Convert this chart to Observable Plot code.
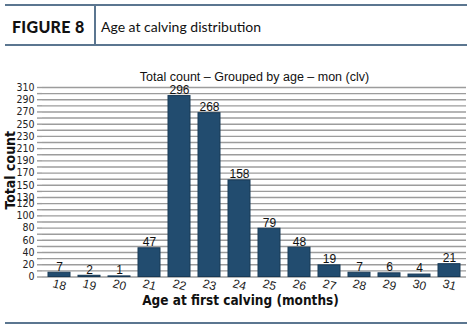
<!DOCTYPE html>
<html>
<head>
<meta charset="utf-8">
<script src="https://cdn.jsdelivr.net/npm/d3@7"></script>
<script src="https://cdn.jsdelivr.net/npm/@observablehq/plot@0.6"></script>
<style>
  html, body { margin: 0; padding: 0; background: #fff; }
  #wrap { position: relative; width: 474px; height: 330px; overflow: hidden; }
  #wrap svg { position: absolute; left: 0; top: 0; }
  .hline { position: absolute; left: 5px; width: 462px; height: 2px; background: #5b7690; }
  .vline { position: absolute; left: 94px; top: 5px; width: 2px; height: 41px; background: #5b7690; }
  .fig { position: absolute; left: 12px; top: 17px; font: 900 16px Lato, "Open Sans", sans-serif; color: #111; letter-spacing: 0.3px; }
  .sub { position: absolute; left: 101px; top: 18px; font: 400 14px Lato, "Open Sans", sans-serif; color: #111; }
</style>
</head>
<body>
<div id="wrap">
  <div class="hline" style="top:4px"></div>
  <div class="hline" style="top:44px"></div>
  <div class="vline"></div>
  <div class="fig">FIGURE 8</div>
  <div class="sub">Age at calving distribution</div>
</div>
<script>
const ages = ["18","19","20","21","22","23","24","25","26","27","28","29","30","31"];
const counts = [7, 2, 1, 47, 296, 268, 158, 79, 48, 19, 7, 6, 4, 21];
const gridTicks = d3.range(0, 311, 10);
const labelTicks = [0, 20, 40, 60, 80, 100, 120, 130, 150, 170, 190, 210, 230, 250, 270, 290, 310];
const chartTitle = "Total count \u2013 Grouped by age \u2013 mon (clv)";
const yTitle = "Total count";
const xTitle = "Age at first calving (months)";

const data = ages.map((a, i) => ({age: a, count: counts[i]}));
const narrow = "'DejaVu Sans Condensed', 'Liberation Sans Narrow', 'Liberation Sans', sans-serif";
const sans = "'Liberation Sans', Arial, sans-serif";

const chart = Plot.plot({
  width: 474,
  height: 330,
  marginTop: 87,
  marginBottom: 53.5,
  marginLeft: 42,
  marginRight: 8,
  style: {background: "transparent", fontFamily: narrow, color: "#111"},
  x: {domain: ages, paddingInner: 0.27, paddingOuter: 0.135, label: null},
  y: {domain: [0, 310], label: null},
  marks: [
    Plot.gridY(gridTicks, {stroke: "#9c9c9c", strokeWidth: 1.4, strokeOpacity: 1}),
    Plot.axisY(gridTicks, {tickSize: 5, stroke: "#9c9c9c", strokeWidth: 1.4, tickFormat: () => "", label: null}),
    Plot.axisY(labelTicks, {tickSize: 0, tickPadding: 8, fontSize: 10.5, fill: "#222", label: null, fontFamily: narrow}),
    Plot.barY(data, {x: "age", y: "count", fill: "#224c6f", stroke: "#183a57", strokeWidth: 1}),
    Plot.text(data, {x: "age", y: "count", text: d => String(d.count), dy: -6, fontSize: 12, fill: "#111", fontFamily: sans}),
    Plot.axisX({tickSize: 0, tickPadding: 8, fontSize: 12, fill: "#222", tickRotate: 15, textAnchor: "middle", label: null, fontFamily: sans}),
    Plot.text([chartTitle], {frameAnchor: "top", dy: -15, text: d => d, fontSize: 12.5, fill: "#111", fontFamily: sans}),
    Plot.text([yTitle], {frameAnchor: "left", textAnchor: "middle", dx: -32, dy: -12, rotate: -90, text: d => d, fontSize: 14, fontWeight: "bold", fill: "#111", fontFamily: narrow}),
    Plot.text([xTitle], {frameAnchor: "bottom", dy: 28, dx: -14, text: d => d, fontSize: 13.5, fontWeight: "bold", fill: "#111", fontFamily: narrow})
  ]
});
document.getElementById("wrap").prepend(chart);
const b = document.createElement("div");
b.className = "hline";
b.style.top = "322px";
document.getElementById("wrap").appendChild(b);
</script>
</body>
</html>
